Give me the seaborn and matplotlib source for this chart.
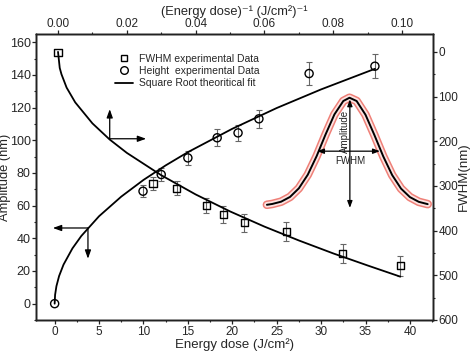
import matplotlib
matplotlib.use("Agg")
import matplotlib.pyplot as plt
import seaborn as sns
from matplotlib.lines import Line2D
from matplotlib.ticker import MultipleLocator

# height data, bottom / left axes
dose = [0, 9.95, 12.0, 15.0, 18.3, 20.65, 23.0, 28.65, 36.06]
height = [0, 68.8, 79.0, 89.2, 101.5, 104.5, 113.1, 140.8, 145.3]
height_err = [0, 3.8, 4.0, 4.4, 5.3, 5.0, 5.6, 7.0, 7.3]

# FWHM data, top / right axes
inv_dose = [0.0, 0.0276, 0.0345, 0.0431, 0.0481, 0.0542, 0.0663, 0.0828, 0.0995]
fwhm = [2, 294, 305, 343, 363, 382, 402, 451, 479]
fwhm_err = [0, 15, 15, 17, 19, 20, 22, 22, 23]

# square root fits
fit_dose = [0, 0.05, 0.2, 0.5, 1, 2, 3, 5, 7.5, 10, 12.5, 15, 20, 25, 30, 36.06]
fit_height = [0, 5.4, 10.7, 16.9, 23.9, 33.8, 41.4, 53.5, 65.5, 75.7, 84.6, 92.7,
              107.0, 119.7, 131.1, 143.7]
fit_inv = [0, 0.0005, 0.001, 0.0025, 0.005, 0.01, 0.015, 0.02, 0.03, 0.04, 0.05,
           0.06, 0.07, 0.08, 0.09, 0.0995]
fit_fwhm = [0, 36, 50, 80, 113, 160, 196, 226, 276, 319, 357, 391, 422, 451, 478, 503]

# gaussian sketch (in bottom / left axis units)
gauss_x = [23.9, 24.5, 25.5, 26.5, 27.5, 28.5, 29.5, 30.5, 31.5, 32.5, 33.2, 34.0,
           35.0, 36.0, 37.0, 38.0, 39.0, 40.0, 41.0, 42.0]
gauss_y = [60.5, 61.0, 62.4, 65.3, 70.6, 78.9, 90.3, 103.5, 115.8, 124.0, 126.0,
           124.0, 115.6, 103.2, 90.1, 78.7, 70.4, 65.2, 62.3, 60.9]

sns.set_style("ticks")
plt.rcParams['font.family'] = ['Liberation Sans', 'DejaVu Sans']

fig = plt.figure(figsize=(4.74, 3.53), dpi=100)
ax = fig.add_axes([36 / 474, 1 - 320 / 353, (433 - 36) / 474, (320 - 34) / 353])
axR = ax.twinx()
axT = axR.twiny()

# height data
ax.errorbar(dose[1:], height[1:], yerr=height_err[1:], fmt='none', ecolor='#666666',
            elinewidth=0.8, capsize=2.5, capthick=0.8)
sns.lineplot(x=fit_dose, y=fit_height, color='black', linewidth=1.3, estimator=None,
             sort=False, ax=ax)
sns.scatterplot(x=dose, y=height, marker='o', s=34, facecolor='none', edgecolor='black',
                linewidth=1.0, ax=ax, zorder=5)

# FWHM data
axT.errorbar(inv_dose[1:], fwhm[1:], yerr=fwhm_err[1:], fmt='none', ecolor='#666666',
             elinewidth=0.8, capsize=2.5, capthick=0.8)
sns.lineplot(x=fit_inv, y=fit_fwhm, color='black', linewidth=1.3, estimator=None,
             sort=False, ax=axT)
sns.scatterplot(x=inv_dose, y=fwhm, marker='s', s=26, facecolor='none', edgecolor='black',
                linewidth=1.0, ax=axT, zorder=5)

# gaussian inset sketch
ax.plot(gauss_x, gauss_y, color='#ef8078', linewidth=6.2, solid_capstyle='round', zorder=3)
ax.plot(gauss_x, gauss_y, color='#fde3e1', linewidth=4.0, solid_capstyle='round', zorder=3)
ax.plot(gauss_x, gauss_y, color='black', linewidth=1.4, zorder=4)
arr = dict(arrowstyle='<|-|>,head_length=0.4,head_width=0.15', color='black', lw=0.9,
           shrinkA=0, shrinkB=0)
ax.annotate('', xy=(33.24, 125), xytext=(33.24, 58.6), arrowprops=arr, zorder=6)
ax.annotate('', xy=(29.55, 93.3), xytext=(36.62, 93.3), arrowprops=arr, zorder=6)
ax.text(32.7, 105.6, 'Amplitude', rotation=90, ha='center', va='center', fontsize=7,
        color='#222222', zorder=6)
ax.text(33.3, 87, 'FWHM', ha='center', va='center', fontsize=7, color='#222222', zorder=6)

# axis pointer arrows
one = dict(arrowstyle='-|>,head_length=0.5,head_width=0.18', color='black', lw=0.9,
           shrinkA=0, shrinkB=0)
ax.annotate('', xy=(6.2, 119), xytext=(6.2, 100.9), arrowprops=one)
ax.annotate('', xy=(10.3, 100.9), xytext=(6.2, 100.9), arrowprops=one)
ax.annotate('', xy=(-0.2, 46.3), xytext=(3.75, 46.3), arrowprops=one)
ax.annotate('', xy=(3.75, 27.5), xytext=(3.75, 46.3), arrowprops=one)

# limits and ticks
ax.set_xlim(-2.1, 42.6)
ax.set_ylim(-10, 165)
axR.set_ylim(600, -40)
axT.set_xlim(-0.0064, 0.109)

ax.xaxis.set_major_locator(MultipleLocator(5))
ax.xaxis.set_minor_locator(MultipleLocator(2.5))
ax.yaxis.set_major_locator(MultipleLocator(20))
ax.yaxis.set_minor_locator(MultipleLocator(10))
axR.yaxis.set_major_locator(MultipleLocator(100))
axR.yaxis.set_minor_locator(MultipleLocator(50))
axT.xaxis.set_major_locator(MultipleLocator(0.02))
axT.xaxis.set_minor_locator(MultipleLocator(0.01))
axT.xaxis.set_major_formatter(matplotlib.ticker.FormatStrFormatter('%.2f'))

for a in (ax, axR, axT):
    for s in a.spines.values():
        s.set_linewidth(1.0)
        s.set_color('#222222')
    a.tick_params(which='major', length=2.8, width=0.9, color='#222222', direction='out')
    a.tick_params(which='minor', length=1.6, width=0.8, color='#222222', direction='out')

ax.tick_params(axis='y', labelsize=9, pad=1)
ax.tick_params(axis='x', labelsize=8.5, pad=1.5)
axR.tick_params(axis='y', labelsize=8.5, pad=1)
axT.tick_params(axis='x', labelsize=8.5, pad=0)

ax.set_xlabel('Energy dose (J/cm\u00b2)', fontsize=9.5, labelpad=0)
ax.set_ylabel('Amplitude (nm)', fontsize=9.3, labelpad=-1.2)
axR.set_ylabel('FWHM(nm)', fontsize=9.5, labelpad=0)
axT.set_xlabel('(Energy dose)\u207b\u00b9 (J/cm\u00b2)\u207b\u00b9', fontsize=9.3, labelpad=2.5)

handles = [
    Line2D([], [], marker='s', ls='', mfc='none', mec='black', ms=5, mew=1.0),
    Line2D([], [], marker='o', ls='', mfc='none', mec='black', ms=5.5, mew=1.0),
    Line2D([], [], color='black', lw=1.3),
]
labels = ['FWHM experimental Data', 'Height  experimental Data',
          'Square Root theoritical fit']
for a in (ax, axT):
    if a.get_legend() is not None:
        a.get_legend().remove()
axT.legend(handles, labels, loc='upper left', bbox_to_anchor=(115 / 474, 1 - 54 / 353),
           bbox_transform=fig.transFigure, frameon=False, fontsize=7.5, borderpad=0,
           borderaxespad=0, handlelength=1.75, handletextpad=0.55, labelspacing=0.2)

fig.savefig('out.png', dpi=100)
